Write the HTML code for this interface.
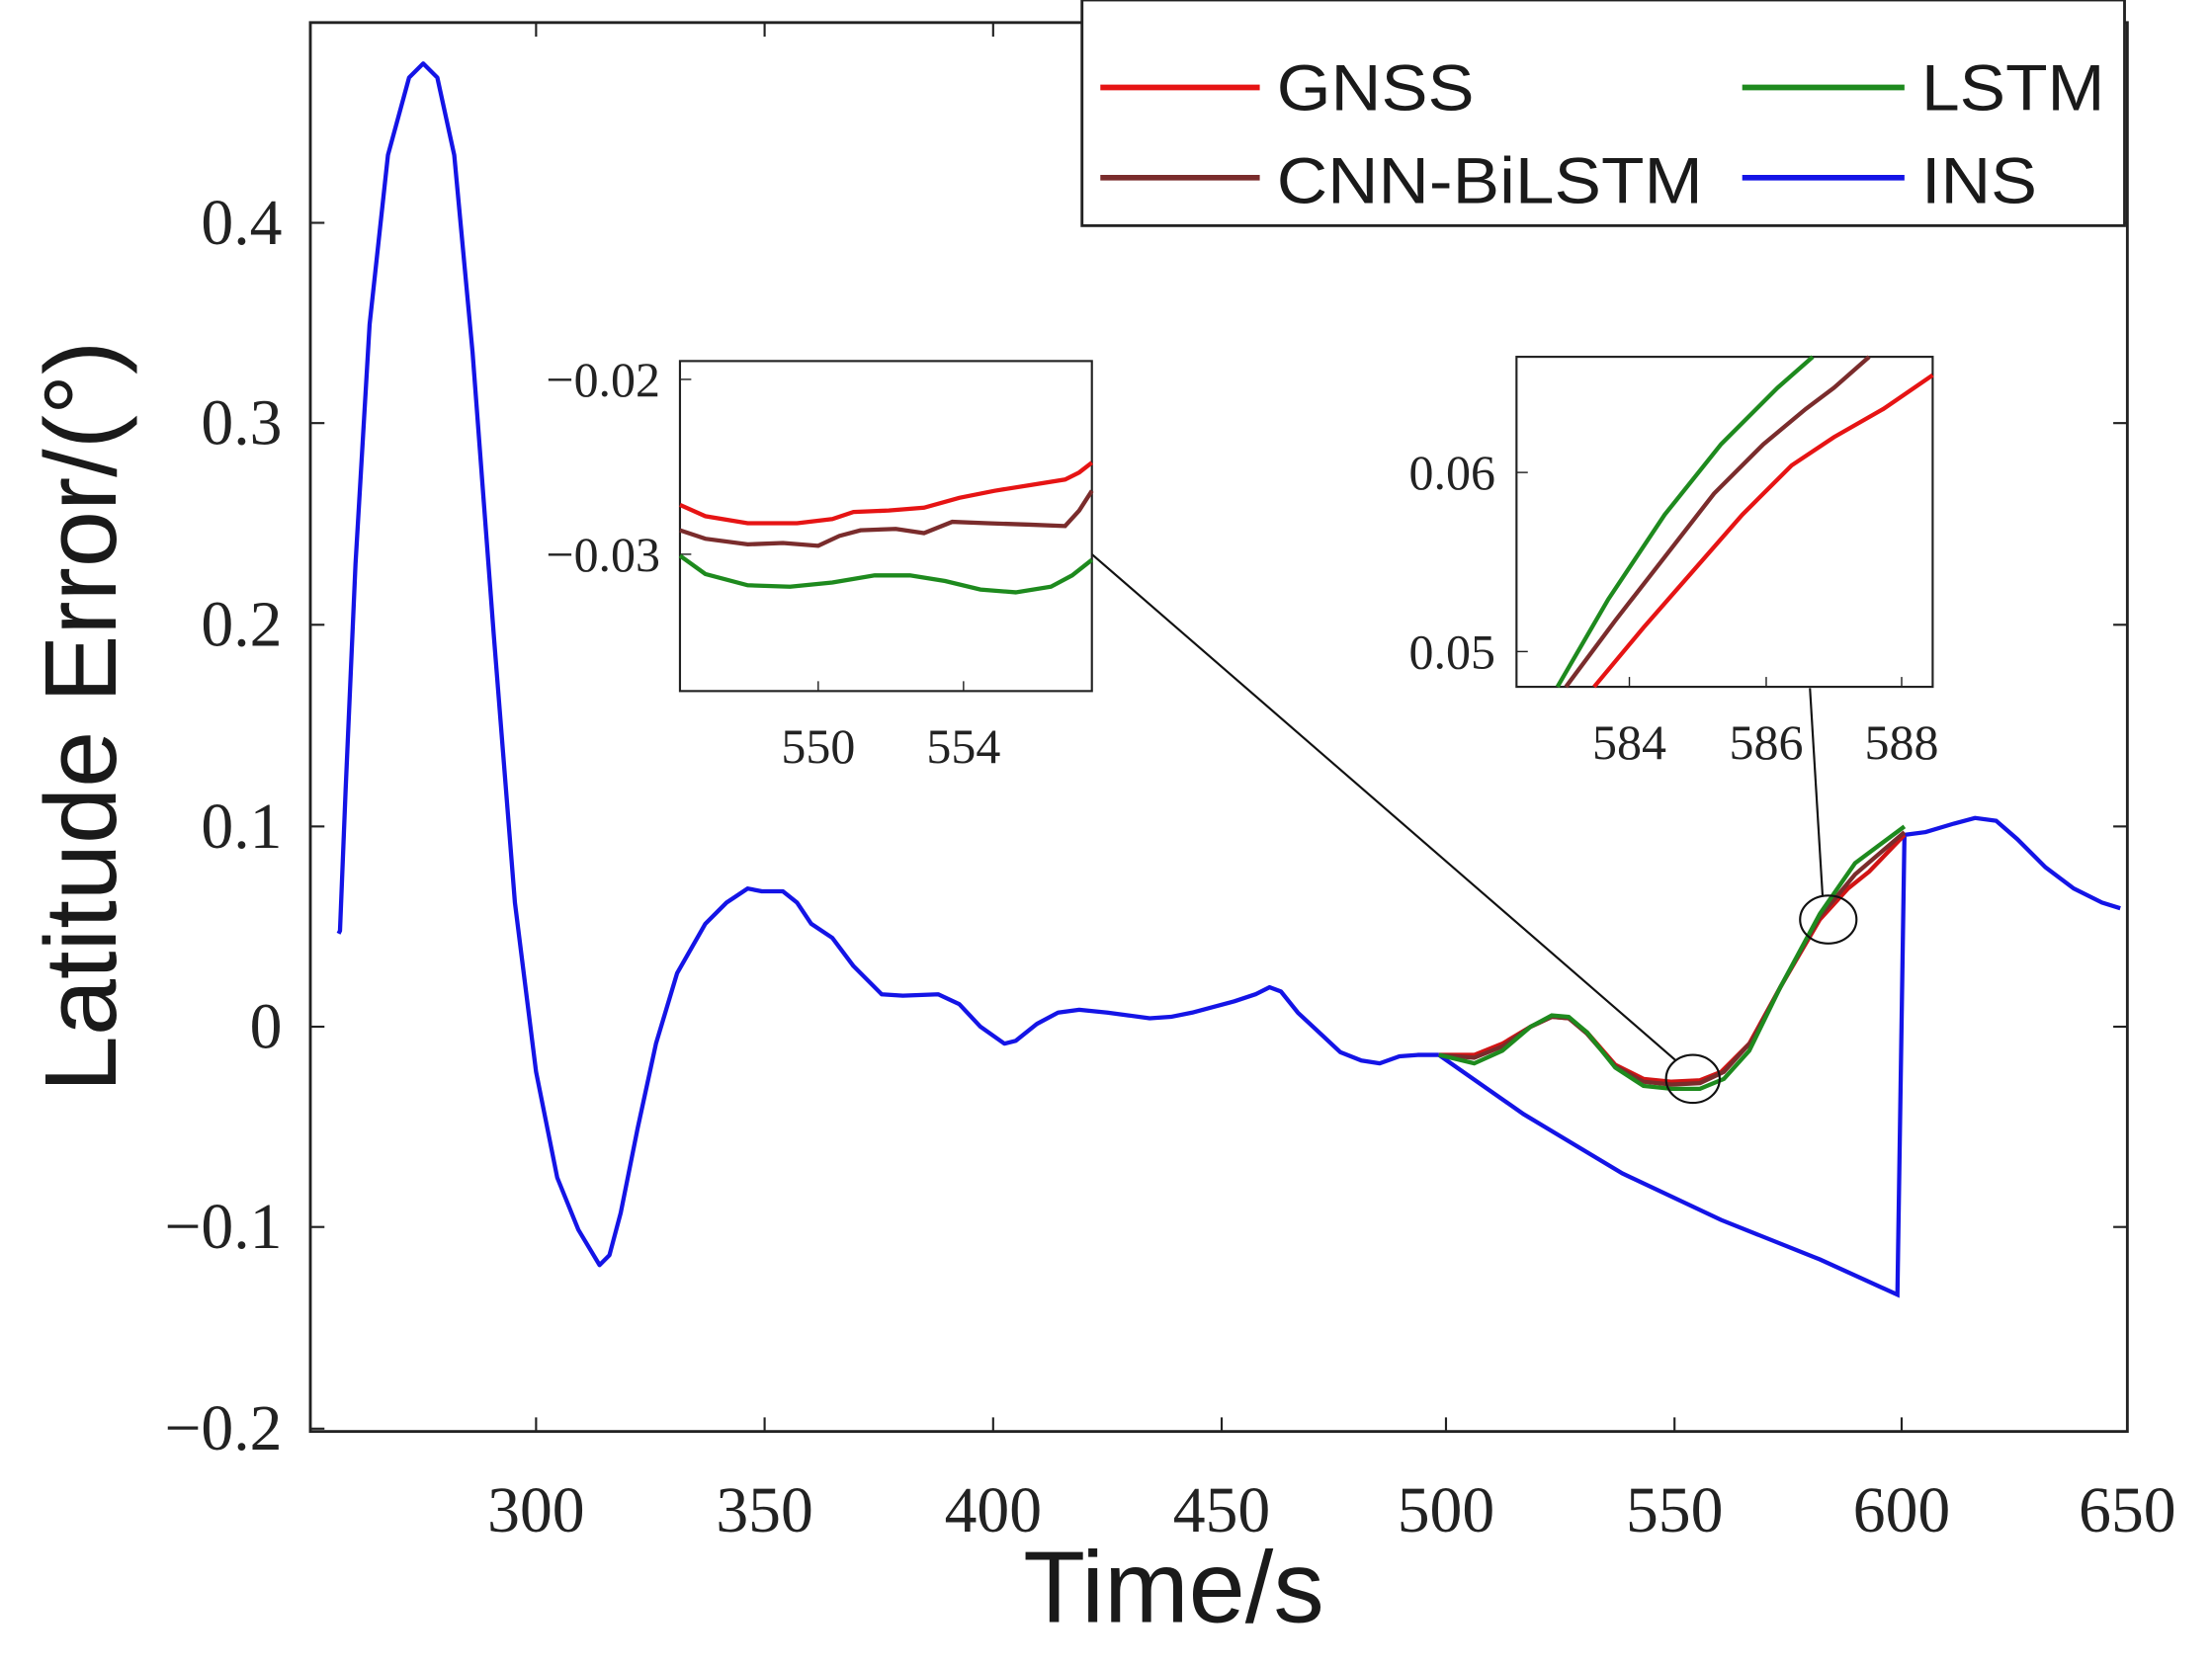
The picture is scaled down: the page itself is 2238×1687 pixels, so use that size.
<!DOCTYPE html>
<html><head><meta charset="utf-8"><style>
html,body{margin:0;padding:0;background:#fff;}
svg{display:block;}
.t{font-family:"Liberation Serif",serif;font-size:46px;fill:#222;}
.ti{font-family:"Liberation Serif",serif;font-size:35px;fill:#222;}
.s{font-family:"Liberation Sans",sans-serif;fill:#1a1a1a;}
</style></head><body>
<svg width="2238" height="1687" viewBox="0 0 1568 1182" preserveAspectRatio="none" xmlns="http://www.w3.org/2000/svg">
<rect width="1568" height="1182" fill="#fff"/>
<rect x="220" y="16" width="1288" height="999" fill="none" stroke="#222" stroke-width="2"/>
<g stroke="#222" stroke-width="1.5">
<line x1="220" y1="158" x2="230" y2="158"/><line x1="220" y1="300" x2="230" y2="300"/><line x1="220" y1="443" x2="230" y2="443"/><line x1="220" y1="586" x2="230" y2="586"/><line x1="220" y1="728" x2="230" y2="728"/><line x1="220" y1="870" x2="230" y2="870"/><line x1="220" y1="1013" x2="230" y2="1013"/>
<line x1="1498" y1="158" x2="1508" y2="158"/><line x1="1498" y1="300" x2="1508" y2="300"/><line x1="1498" y1="443" x2="1508" y2="443"/><line x1="1498" y1="586" x2="1508" y2="586"/><line x1="1498" y1="728" x2="1508" y2="728"/><line x1="1498" y1="870" x2="1508" y2="870"/>
<line x1="380" y1="1015" x2="380" y2="1005"/><line x1="542" y1="1015" x2="542" y2="1005"/><line x1="704" y1="1015" x2="704" y2="1005"/><line x1="866" y1="1015" x2="866" y2="1005"/><line x1="1025" y1="1015" x2="1025" y2="1005"/><line x1="1187" y1="1015" x2="1187" y2="1005"/><line x1="1348" y1="1015" x2="1348" y2="1005"/>
<line x1="380" y1="16" x2="380" y2="26"/><line x1="542" y1="16" x2="542" y2="26"/><line x1="704" y1="16" x2="704" y2="26"/><line x1="866" y1="16" x2="866" y2="26"/><line x1="1025" y1="16" x2="1025" y2="26"/><line x1="1187" y1="16" x2="1187" y2="26"/><line x1="1348" y1="16" x2="1348" y2="26"/>
</g>
<g class="t" text-anchor="end">
<text x="200" y="173">0.4</text><text x="200" y="315">0.3</text><text x="200" y="458">0.2</text><text x="200" y="601">0.1</text><text x="200" y="743">0</text><text x="200" y="885">−0.1</text><text x="200" y="1028">−0.2</text>
</g>
<g class="t" text-anchor="middle">
<text x="380" y="1086">300</text><text x="542" y="1086">350</text><text x="704" y="1086">400</text><text x="866" y="1086">450</text><text x="1025" y="1086">500</text><text x="1187" y="1086">550</text><text x="1348" y="1086">600</text><text x="1508" y="1086">650</text>
</g>
<text class="s" x="832" y="1150" font-size="72" text-anchor="middle">Time/s</text>
<text class="s" transform="translate(82,508) rotate(-90)" font-size="72" text-anchor="middle">Latitude Error/(°)</text>
<polyline fill="none" stroke="#1414e6" stroke-width="3" stroke-linejoin="round" points="240,662 241,660 245,560 252,400 262,230 275,110 290,55 300,45 310,55 322,110 335,250 350,450 365,640 380,760 395,835 410,872 425,897 432,890 440,860 452,800 465,740 480,690 500,655 515,640 530,630 540,632 555,632 565,640 575,655 590,665 605,685 625,705 640,706 665,705 680,712 695,728 712,740 720,738 735,726 750,718 765,716 785,718 800,720 815,722 830,721 845,718 860,714 875,710 890,705 900,700 908,703 920,718 935,732 950,746 965,752 978,754 992,749 1005,748 1020,748"/>
<polyline fill="none" stroke="#1414e6" stroke-width="3" points="1020,748 1080,790 1150,832 1220,865 1290,893 1345,918 1350,592 1365,590 1385,584 1400,580 1415,582 1430,595 1450,615 1470,630 1490,640 1503,644"/>
<polyline fill="none" stroke="#d21414" stroke-width="3" points="1020,748 1045,748 1065,740 1085,728 1100,721 1112,722 1125,732 1145,755 1165,765 1185,767 1205,766 1220,760 1240,740 1262,700 1290,652 1310,630 1325,618 1350,592"/>
<polyline fill="none" stroke="#7a2c2c" stroke-width="3" points="1020,748 1045,750 1065,742 1085,728 1100,721 1112,722 1125,733 1145,756 1165,767 1185,769 1205,768 1222,760 1242,738 1262,700 1290,650 1315,620 1350,590"/>
<polyline fill="none" stroke="#1e8a1e" stroke-width="3" points="1020,748 1045,754 1065,745 1085,728 1100,720 1112,721 1125,732 1145,757 1165,770 1185,772 1205,772 1222,765 1240,745 1262,700 1290,648 1315,612 1350,586"/>
<ellipse cx="1200" cy="765" rx="19" ry="17" fill="none" stroke="#111" stroke-width="1.5"/>
<ellipse cx="1296" cy="652" rx="20" ry="17" fill="none" stroke="#111" stroke-width="1.5"/>
<line x1="774" y1="393" x2="1188" y2="752" stroke="#111" stroke-width="1.5"/>
<line x1="1283" y1="488" x2="1292" y2="636" stroke="#111" stroke-width="1.5"/>
<rect x="482" y="256" width="292" height="234" fill="#fff" stroke="#222" stroke-width="1.5"/>
<g stroke="#222" stroke-width="1"><line x1="482" y1="269" x2="490" y2="269"/><line x1="482" y1="393" x2="490" y2="393"/><line x1="580" y1="490" x2="580" y2="483"/><line x1="683" y1="490" x2="683" y2="483"/></g>
<g class="ti" text-anchor="end"><text x="468" y="281">−0.02</text><text x="468" y="405">−0.03</text></g>
<g class="ti" text-anchor="middle"><text x="580" y="541">550</text><text x="683" y="541">554</text></g>
<polyline fill="none" stroke="#e61414" stroke-width="3" points="482,358 500,366 530,371 565,371 590,368 605,363 630,362 655,360 680,353 705,348 730,344 755,340 765,335 774,328"/>
<polyline fill="none" stroke="#7a2c2c" stroke-width="3" points="482,376 500,382 530,386 555,385 580,387 595,380 610,376 635,375 655,378 675,370 700,371 730,372 755,373 765,362 774,348"/>
<polyline fill="none" stroke="#1e8a1e" stroke-width="3" points="482,394 500,407 530,415 560,416 590,413 620,408 645,408 670,412 695,418 720,420 745,416 760,408 774,397"/>
<rect x="1075" y="253" width="295" height="234" fill="#fff" stroke="#222" stroke-width="1.5"/>
<g stroke="#222" stroke-width="1"><line x1="1075" y1="335" x2="1083" y2="335"/><line x1="1075" y1="462" x2="1083" y2="462"/><line x1="1155" y1="487" x2="1155" y2="480"/><line x1="1252" y1="487" x2="1252" y2="480"/><line x1="1348" y1="487" x2="1348" y2="480"/></g>
<g class="ti" text-anchor="end"><text x="1060" y="347">0.06</text><text x="1060" y="474">0.05</text></g>
<g class="ti" text-anchor="middle"><text x="1155" y="538">584</text><text x="1252" y="538">586</text><text x="1348" y="538">588</text></g>
<polyline fill="none" stroke="#1e8a1e" stroke-width="3" points="1104,487 1140,425 1180,365 1220,315 1260,275 1285,253"/>
<polyline fill="none" stroke="#7a2c2c" stroke-width="3" points="1110,487 1145,440 1180,395 1215,350 1250,315 1280,290 1300,275 1325,253"/>
<polyline fill="none" stroke="#e61414" stroke-width="3" points="1130,487 1165,445 1200,405 1235,365 1270,330 1300,310 1335,290 1370,266"/>
<rect x="767" y="0" width="739" height="160" fill="#fff" stroke="#222" stroke-width="2"/>
<line x1="780" y1="62" x2="893" y2="62" stroke="#e61414" stroke-width="4"/>
<line x1="780" y1="126" x2="893" y2="126" stroke="#7a2c2c" stroke-width="4"/>
<line x1="1235" y1="62" x2="1350" y2="62" stroke="#1e8a1e" stroke-width="4"/>
<line x1="1235" y1="126" x2="1350" y2="126" stroke="#1414e6" stroke-width="4"/>
<g class="s" font-size="46"><text x="905" y="78" textLength="140" lengthAdjust="spacingAndGlyphs">GNSS</text><text x="905" y="144" textLength="302" lengthAdjust="spacingAndGlyphs">CNN-BiLSTM</text><text x="1362" y="78" textLength="130" lengthAdjust="spacingAndGlyphs">LSTM</text><text x="1362" y="144" textLength="82" lengthAdjust="spacingAndGlyphs">INS</text></g>
</svg>
</body></html>
